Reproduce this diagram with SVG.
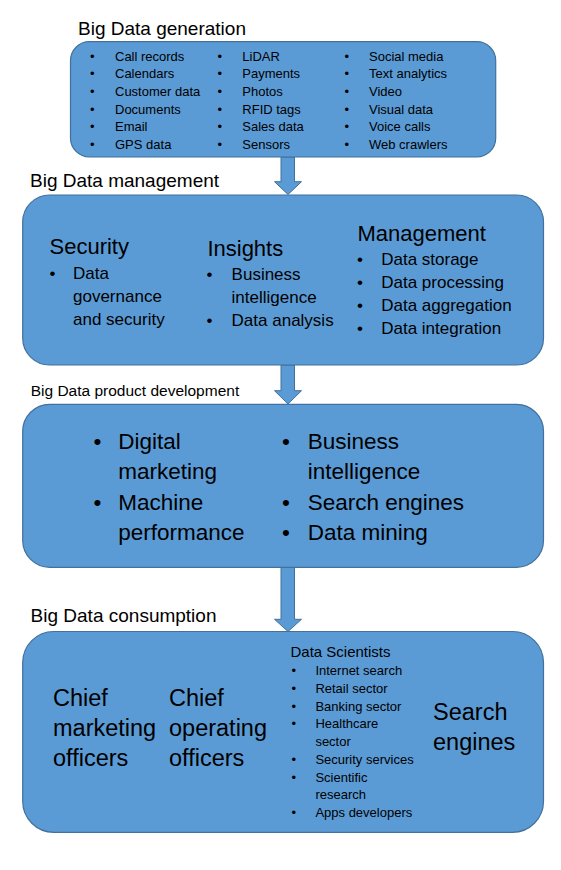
<svg xmlns="http://www.w3.org/2000/svg" width="561" height="870" viewBox="0 0 561 870">
<style>
.box{fill:#5B9BD5;stroke:#41719C;stroke-width:1.2}
.arr{fill:#5B9BD5;stroke:#41719C;stroke-width:1}
text{font-family:"Liberation Sans",Arial,sans-serif;fill:#000}
.ttl{font-size:19px}
.s13{font-size:13px}
.s17{font-size:17px}
.h22{font-size:22px}
.s22{font-size:22.5px}
.s23{font-size:23.5px}
.s15{font-size:15px}
</style>
<rect width="561" height="870" fill="#fff"/>
<g id="connectors">
<path class="arr" d="M281 157 H294.5 V181.7 H301.5 L288 194.5 L274.5 181.7 H281 Z"/>
<path class="arr" d="M281 365 H294.5 V390.7 H301.5 L288 404 L274.5 390.7 H281 Z"/>
<path class="arr" d="M281 567.5 H294.5 V619.3 H301.5 L288 631.5 L274.5 619.3 H281 Z"/>
</g>
<g id="generation">
<text class="ttl" x="78" y="35">Big Data generation</text>
<rect class="box" x="70.5" y="41.7" width="425.2" height="115.3" rx="19" ry="19"/>
<g class="s13">
<text x="90" y="60.7">•</text><text x="115" y="60.7">Call records</text>
<text x="90" y="78.3">•</text><text x="115" y="78.3">Calendars</text>
<text x="90" y="95.9">•</text><text x="115" y="95.9">Customer data</text>
<text x="90" y="113.5">•</text><text x="115" y="113.5">Documents</text>
<text x="90" y="131.1">•</text><text x="115" y="131.1">Email</text>
<text x="90" y="148.7">•</text><text x="115" y="148.7">GPS data</text>
<text x="217.5" y="60.7">•</text><text x="242.3" y="60.7">LiDAR</text>
<text x="217.5" y="78.3">•</text><text x="242.3" y="78.3">Payments</text>
<text x="217.5" y="95.9">•</text><text x="242.3" y="95.9">Photos</text>
<text x="217.5" y="113.5">•</text><text x="242.3" y="113.5">RFID tags</text>
<text x="217.5" y="131.1">•</text><text x="242.3" y="131.1">Sales data</text>
<text x="217.5" y="148.7">•</text><text x="242.3" y="148.7">Sensors</text>
<text x="344.5" y="60.7">•</text><text x="369" y="60.7">Social media</text>
<text x="344.5" y="78.3">•</text><text x="369" y="78.3">Text analytics</text>
<text x="344.5" y="95.9">•</text><text x="369" y="95.9">Video</text>
<text x="344.5" y="113.5">•</text><text x="369" y="113.5">Visual data</text>
<text x="344.5" y="131.1">•</text><text x="369" y="131.1">Voice calls</text>
<text x="344.5" y="148.7">•</text><text x="369" y="148.7">Web crawlers</text>
</g>
</g>
<g id="management">
<text class="ttl" x="30" y="186.5">Big Data management</text>
<rect class="box" x="22.7" y="195" width="520.8" height="170" rx="27" ry="27"/>
<text class="h22" x="49.5" y="253.5">Security</text>
<text class="h22" x="207.4" y="256">Insights</text>
<text class="h22" x="357.4" y="240.7">Management</text>
<g class="s17">
<text x="49.5" y="279.3">•</text><text x="73" y="279.3">Data</text>
<text x="73" y="302.3">governance</text>
<text x="73" y="325.3">and security</text>
<text x="206.5" y="279.6">•</text><text x="231.6" y="279.6">Business</text>
<text x="231.6" y="302.6">intelligence</text>
<text x="206.5" y="325.6">•</text><text x="231.6" y="325.6">Data analysis</text>
<text x="357" y="264.6">•</text><text x="381.2" y="264.6">Data storage</text>
<text x="357" y="287.6">•</text><text x="381.2" y="287.6">Data processing</text>
<text x="357" y="310.6">•</text><text x="381.2" y="310.6">Data aggregation</text>
<text x="357" y="333.6">•</text><text x="381.2" y="333.6">Data integration</text>
</g>
</g>
<g id="product">
<text x="30.7" y="396" style="font-size:15.5px">Big Data product development</text>
<rect class="box" x="22.7" y="404.3" width="520.8" height="163" rx="27" ry="27"/>
<g class="s22">
<text x="93.5" y="449">•</text><text x="118.3" y="449">Digital</text>
<text x="118.3" y="479">marketing</text>
<text x="93.5" y="510">•</text><text x="118.3" y="510">Machine</text>
<text x="118.3" y="540">performance</text>
<text x="282" y="449">•</text><text x="307.7" y="449">Business</text>
<text x="307.7" y="479">intelligence</text>
<text x="282" y="510">•</text><text x="307.7" y="510">Search engines</text>
<text x="282" y="540">•</text><text x="307.7" y="540">Data mining</text>
</g>
</g>
<g id="consumption">
<text class="ttl" x="30.6" y="622">Big Data consumption</text>
<rect class="box" x="22.7" y="631.5" width="520.8" height="200.8" rx="31" ry="31"/>
<g class="s23">
<text x="53" y="705.5">Chief</text>
<text x="53" y="735.5">marketing</text>
<text x="53" y="765.5">officers</text>
<text x="169" y="705.5">Chief</text>
<text x="169" y="735.5">operating</text>
<text x="169" y="765.5">officers</text>
<text x="433" y="719.5">Search</text>
<text x="433" y="749.5">engines</text>
</g>
<text class="s15" x="290.5" y="656.5">Data Scientists</text>
<g class="s13">
<text x="291.5" y="675">•</text><text x="315.4" y="675">Internet search</text>
<text x="291.5" y="692.8">•</text><text x="315.4" y="692.8">Retail sector</text>
<text x="291.5" y="710.5">•</text><text x="315.4" y="710.5">Banking sector</text>
<text x="291.5" y="728.3">•</text><text x="315.4" y="728.3">Healthcare</text>
<text x="315.4" y="746">sector</text>
<text x="291.5" y="763.8">•</text><text x="315.4" y="763.8">Security services</text>
<text x="291.5" y="781.5">•</text><text x="315.4" y="781.5">Scientific</text>
<text x="315.4" y="799.3">research</text>
<text x="291.5" y="817">•</text><text x="315.4" y="817">Apps developers</text>
</g>
</g>
</svg>
